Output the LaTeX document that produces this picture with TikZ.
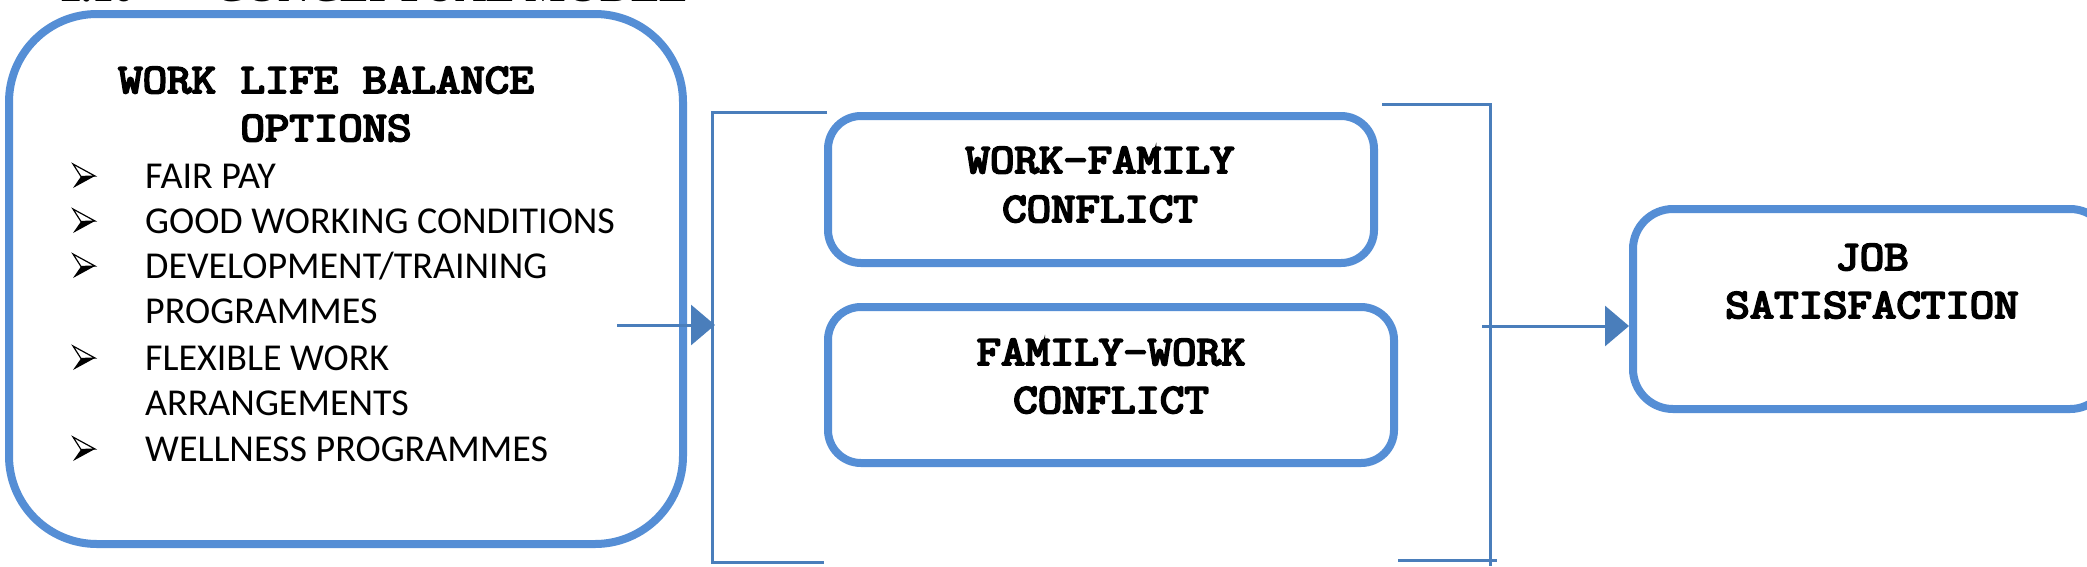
\documentclass[tikz,border=0pt]{standalone}
\usepackage{fontspec}
\setmainfont{Carlito}
\newfontfamily\titlef{Liberation Serif}
\newfontfamily\cour[FakeBold=4.5]{Latin Modern Mono}
\usetikzlibrary{arrows.meta}
\definecolor{boxblue}{HTML}{558ED5}
\definecolor{lineblue}{HTML}{4A7EBB}
\begin{document}
\begin{tikzpicture}[x=1pt,y=-1pt,
  rbox/.style={draw=boxblue, line width=8pt, rounded corners=#1, inner sep=0pt},
  bracket/.style={draw=lineblue, line width=3pt},
  conn/.style={draw=lineblue, line width=3pt, -{Triangle[length=24pt,width=40pt]}},
  head/.style={font=\cour\fontsize{42}{49}\selectfont, anchor=base, inner sep=0pt, xscale=1.13},
  item/.style={font=\fontsize{38}{45}\selectfont, anchor=base west, inner sep=0pt},
  ttl/.style={font=\titlef\bfseries\fontsize{43}{43}\selectfont, anchor=base west, inner sep=0pt},
  wb/.pic={
    \draw[black, line width=1.2pt, line join=miter] (0,0) -- (22,12) -- (8,12.5) -- cycle;
    \fill[black] (8,12.5) -- (22,12) -- (0,24) -- cycle;
  }
]
\useasboundingbox (0,0) rectangle (2087,566);
\clip (0,0) rectangle (2087,566);
\fill[white] (0,0) rectangle (2087,566);

% cut-off heading
\node[ttl] (num) at (60,1.8) {2.10};
\node[ttl] (title) at (214,1.8) {CONCEPTUAL MODEL};

% left box
\node[rbox=88pt, minimum width=674pt, minimum height=530pt] (wlb) at (346,279) {};
\node[head] (h1) at (326,93) {WORK LIFE BALANCE};
\node[head] (h2) at (326,141) {OPTIONS};
\pic (b1) at (73,164) {wb};
\node[item] (i1) at (145,188) {FAIR PAY};
\pic (b2) at (73,209) {wb};
\node[item] (i2) at (145,233) {GOOD WORKING CONDITIONS};
\pic (b3) at (73,254) {wb};
\node[item] (i3) at (145,278) {DEVELOPMENT/TRAINING};
\node[item] (i4) at (145,323) {PROGRAMMES};
\pic (b5) at (73,346) {wb};
\node[item] (i5) at (145,370) {FLEXIBLE WORK};
\node[item] (i6) at (145,415) {ARRANGEMENTS};
\pic (b7) at (73,437) {wb};
\node[item] (i7) at (145,461) {WELLNESS PROGRAMMES};

% middle boxes
\node[rbox=33pt, minimum width=546pt, minimum height=147pt] (wf) at (1101,189.5) {};
\node[head] (wf1) at (1100,173) {WORK-FAMILY};
\node[head] (wf2) at (1100,222) {CONFLICT};
\node[rbox=33pt, minimum width=566pt, minimum height=156pt] (fw) at (1111,385) {};
\node[head] (fw1) at (1111,365) {FAMILY-WORK};
\node[head] (fw2) at (1111,413) {CONFLICT};

% right box
\node[rbox=40pt, minimum width=477pt, minimum height=200pt] (job) at (1871.5,309) {};
\node[head] (j1) at (1872,270) {JOB};
\node[head] (j2) at (1872,318) {SATISFACTION};

% brackets
\coordinate (lb1) at (827,112);
\coordinate (lb2) at (712,112);
\coordinate (lb3) at (712,562);
\coordinate (lb4) at (824,562);
\draw[bracket] (lb1) -- (lb2) -- (lb3) -- (lb4);
\coordinate (rb1) at (1382,104);
\coordinate (rb2) at (1490,104);
\coordinate (rb3) at (1490,566);
\coordinate (rb4) at (1398,560);
\coordinate (rb5) at (1497,560);
\draw[bracket] (rb1) -- (rb2) -- (rb3);
\draw[bracket] (rb4) -- (rb5);

% arrows
\coordinate (a1s) at (617,325);
\coordinate (a1e) at (715,325);
\draw[conn] (a1s) -- (a1e);
\coordinate (a2s) at (1482,326);
\draw[conn] (a2s) -- (a2s -| job.west);
\end{tikzpicture}
\end{document}
